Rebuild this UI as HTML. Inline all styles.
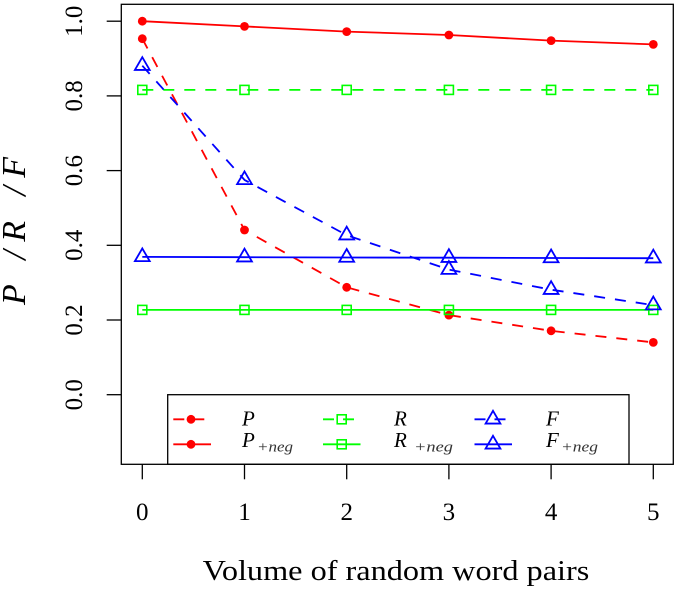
<!DOCTYPE html>
<html>
<head>
<meta charset="utf-8">
<style>
html,body{margin:0;padding:0;background:#fff;}
svg{display:block;}
</style>
</head>
<body>
<svg width="676" height="589" viewBox="0 0 676 589" xmlns="http://www.w3.org/2000/svg">
<rect x="0" y="0" width="676" height="589" fill="#fff"/>

<!-- series -->
<g fill="none" stroke-width="1.8" stroke-linejoin="round">
  <polyline stroke="#ff0000" stroke-dasharray="11 10" points="142.3,38.7 244.5,230.0 346.7,287.3 448.9,315.1 551.1,330.8 653.3,342.4"/>
  <polyline stroke="#ff0000" points="142.3,21.2 244.5,26.4 346.7,31.6 448.9,35.0 551.1,40.6 653.3,44.4"/>
  <polyline stroke="#00ff00" stroke-dasharray="11 10" points="142.3,89.9 244.5,89.9 346.7,89.9 448.9,89.9 551.1,89.9 653.3,89.9"/>
  <polyline stroke="#00ff00" points="142.3,309.9 244.5,309.9 346.7,309.9 448.9,309.9 551.1,309.9 653.3,309.9"/>
  <polyline stroke="#0000ff" stroke-dasharray="11 10" points="142.3,65.7 244.5,179.9 346.7,235.2 448.9,269.6 551.1,289.7 653.3,305.1"/>
  <polyline stroke="#0000ff" points="142.3,256.9 244.5,257.2 346.7,257.5 448.9,257.7 551.1,258.0 653.3,258.2"/>
</g>

<!-- circle markers -->
<g fill="#ff0000">
  <circle cx="142.3" cy="38.7" r="4.4"/><circle cx="244.5" cy="230.0" r="4.4"/><circle cx="346.7" cy="287.3" r="4.4"/>
  <circle cx="448.9" cy="315.1" r="4.4"/><circle cx="551.1" cy="330.8" r="4.4"/><circle cx="653.3" cy="342.4" r="4.4"/>
  <circle cx="142.3" cy="21.2" r="4.4"/><circle cx="244.5" cy="26.4" r="4.4"/><circle cx="346.7" cy="31.6" r="4.4"/>
  <circle cx="448.9" cy="35.0" r="4.4"/><circle cx="551.1" cy="40.6" r="4.4"/><circle cx="653.3" cy="44.4" r="4.4"/>
</g>

<!-- square markers -->
<g fill="none" stroke="#00ff00" stroke-width="1.6">
  <rect x="137.8" y="85.4" width="9" height="9"/><rect x="240" y="85.4" width="9" height="9"/><rect x="342.2" y="85.4" width="9" height="9"/>
  <rect x="444.4" y="85.4" width="9" height="9"/><rect x="546.6" y="85.4" width="9" height="9"/><rect x="648.8" y="85.4" width="9" height="9"/>
  <rect x="137.8" y="305.4" width="9" height="9"/><rect x="240" y="305.4" width="9" height="9"/><rect x="342.2" y="305.4" width="9" height="9"/>
  <rect x="444.4" y="305.4" width="9" height="9"/><rect x="546.6" y="305.4" width="9" height="9"/><rect x="648.8" y="305.4" width="9" height="9"/>
</g>

<!-- triangle markers -->
<g fill="none" stroke="#0000ff" stroke-width="1.8" stroke-linejoin="miter">
  <polygon points="142.3,57.2 149.7,69.95 134.9,69.95"/>
  <polygon points="244.5,171.4 251.9,184.15 237.1,184.15"/>
  <polygon points="346.7,226.7 354.1,239.45 339.3,239.45"/>
  <polygon points="448.9,261.1 456.3,273.85 441.5,273.85"/>
  <polygon points="551.1,281.2 558.5,293.95 543.7,293.95"/>
  <polygon points="653.3,296.6 660.7,309.35 645.9,309.35"/>
  <polygon points="142.3,248.4 149.7,261.15 134.9,261.15"/>
  <polygon points="244.5,248.7 251.9,261.45 237.1,261.45"/>
  <polygon points="346.7,249.0 354.1,261.75 339.3,261.75"/>
  <polygon points="448.9,249.2 456.3,261.95 441.5,261.95"/>
  <polygon points="551.1,249.5 558.5,262.25 543.7,262.25"/>
  <polygon points="653.3,249.7 660.7,262.45 645.9,262.45"/>
</g>

<!-- legend -->
<rect x="167.7" y="394.7" width="461.3" height="69.6" fill="#fff" stroke="#000" stroke-width="1.3"/>
<g fill="none" stroke-width="1.8">
  <line x1="173.3" y1="419.3" x2="204.3" y2="419.3" stroke="#ff0000" stroke-dasharray="11 9"/>
  <line x1="173.3" y1="444.3" x2="211" y2="444.3" stroke="#ff0000"/>
  <line x1="323" y1="419.3" x2="354" y2="419.3" stroke="#00ff00" stroke-dasharray="11 9"/>
  <line x1="323" y1="444.3" x2="360.5" y2="444.3" stroke="#00ff00"/>
  <line x1="474.5" y1="419.3" x2="505.5" y2="419.3" stroke="#0000ff" stroke-dasharray="11 9"/>
  <line x1="474.5" y1="444.3" x2="512" y2="444.3" stroke="#0000ff"/>
</g>
<circle cx="191" cy="419.3" r="4.4" fill="#ff0000"/>
<circle cx="191" cy="444.3" r="4.4" fill="#ff0000"/>
<rect x="337.2" y="414.8" width="9" height="9" fill="none" stroke="#00ff00" stroke-width="1.6"/>
<rect x="337.2" y="439.8" width="9" height="9" fill="none" stroke="#00ff00" stroke-width="1.6"/>
<polygon points="493,410.8 500.4,423.55 485.6,423.55" fill="none" stroke="#0000ff" stroke-width="1.8"/>
<polygon points="493,435.8 500.4,448.55 485.6,448.55" fill="none" stroke="#0000ff" stroke-width="1.8"/>

<g font-family="'Liberation Serif', serif" font-style="italic" fill="#000">
  <text x="242" y="425.5" font-size="21">P</text>
  <text x="242" y="447" font-size="21">P</text>
  <text x="257" y="451.5" font-size="15" textLength="36" lengthAdjust="spacingAndGlyphs" fill="#333">+neg</text>
  <text x="394" y="425.5" font-size="21">R</text>
  <text x="394" y="447" font-size="21">R</text>
  <text x="414" y="451.5" font-size="15" textLength="39" lengthAdjust="spacingAndGlyphs" fill="#333">+neg</text>
  <text x="546" y="425.5" font-size="21">F</text>
  <text x="546" y="447" font-size="21">F</text>
  <text x="561" y="451.5" font-size="15" textLength="37" lengthAdjust="spacingAndGlyphs" fill="#333">+neg</text>
</g>

<!-- plot box -->
<rect x="121.3" y="4.3" width="552" height="460" fill="none" stroke="#000" stroke-width="1.3"/>

<!-- ticks -->
<g stroke="#000" stroke-width="1.3">
  <line x1="106.7" y1="394.7" x2="121.3" y2="394.7"/>
  <line x1="106.7" y1="320.0" x2="121.3" y2="320.0"/>
  <line x1="106.7" y1="245.3" x2="121.3" y2="245.3"/>
  <line x1="106.7" y1="170.6" x2="121.3" y2="170.6"/>
  <line x1="106.7" y1="95.9" x2="121.3" y2="95.9"/>
  <line x1="106.7" y1="21.2" x2="121.3" y2="21.2"/>
  <line x1="142.3" y1="464.3" x2="142.3" y2="479.3"/>
  <line x1="244.5" y1="464.3" x2="244.5" y2="479.3"/>
  <line x1="346.7" y1="464.3" x2="346.7" y2="479.3"/>
  <line x1="448.9" y1="464.3" x2="448.9" y2="479.3"/>
  <line x1="551.1" y1="464.3" x2="551.1" y2="479.3"/>
  <line x1="653.3" y1="464.3" x2="653.3" y2="479.3"/>
</g>

<!-- y tick labels (rotated) -->
<g font-family="'Liberation Serif', serif" font-size="25" fill="#000" text-anchor="middle">
  <text transform="translate(82,394.7) rotate(-90)">0.0</text>
  <text transform="translate(82,320.0) rotate(-90)">0.2</text>
  <text transform="translate(82,245.3) rotate(-90)">0.4</text>
  <text transform="translate(82,170.6) rotate(-90)">0.6</text>
  <text transform="translate(82,95.9) rotate(-90)">0.8</text>
  <text transform="translate(82,21.2) rotate(-90)">1.0</text>
</g>

<!-- x tick labels -->
<g font-family="'Liberation Serif', serif" font-size="25" fill="#000" text-anchor="middle">
  <text x="142.3" y="520">0</text>
  <text x="244.5" y="520">1</text>
  <text x="346.7" y="520">2</text>
  <text x="448.9" y="520">3</text>
  <text x="551.1" y="520">4</text>
  <text x="653.3" y="520">5</text>
</g>

<!-- axis titles -->
<text x="202.7" y="580" font-family="'Liberation Serif', serif" font-size="29" fill="#000" textLength="386.6" lengthAdjust="spacingAndGlyphs">Volume of random word pairs</text>
<text transform="translate(25,305) rotate(-90)" font-family="'Liberation Serif', serif" font-style="italic" font-size="34" fill="#000" textLength="148" lengthAdjust="spacing">P /R /F</text>
</svg>
</body>
</html>
